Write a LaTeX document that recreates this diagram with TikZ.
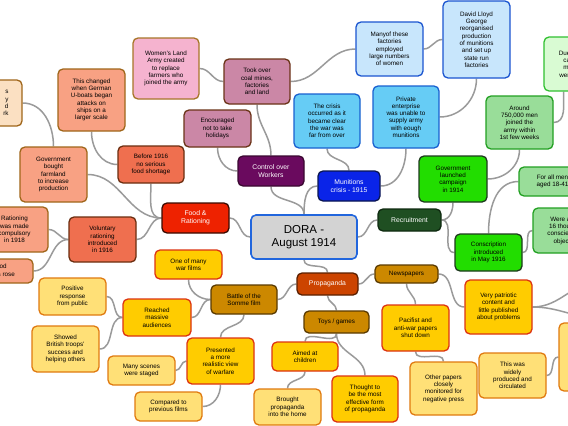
\documentclass[tikz,border=0pt]{standalone}
\usepackage{fontspec}
\setmainfont{Liberation Sans}
\usetikzlibrary{backgrounds}
\definecolor{cLine}{HTML}{9A9A9A}
\definecolor{cSal}{HTML}{F8A183}
\definecolor{bSal}{HTML}{A0661A}
\definecolor{cBei}{HTML}{FBE0C2}
\definecolor{cSalM}{HTML}{EF6F4F}
\definecolor{bBrn}{HTML}{6B2E10}
\definecolor{cPink}{HTML}{F5B3CF}
\definecolor{bPink}{HTML}{A87528}
\definecolor{cMauve}{HTML}{CB87A6}
\definecolor{bMauve}{HTML}{6B3318}
\definecolor{cBlueL}{HTML}{C8E6FC}
\definecolor{bBlueL}{HTML}{1B55D0}
\definecolor{cBlueM}{HTML}{66CCF5}
\definecolor{bBlueM}{HTML}{1860D0}
\definecolor{cGreenVL}{HTML}{D9FBD3}
\definecolor{bGreenVL}{HTML}{30C030}
\definecolor{cGreenL}{HTML}{99DD99}
\definecolor{bGreenL}{HTML}{22A022}
\definecolor{cGreenB}{HTML}{22DD00}
\definecolor{bGreenB}{HTML}{1E3A1E}
\definecolor{cGreenD}{HTML}{1F4F22}
\definecolor{bGreenD}{HTML}{0F2A10}
\definecolor{cPurp}{HTML}{6A0A5E}
\definecolor{bPurp}{HTML}{3A0830}
\definecolor{cMun}{HTML}{0A24E8}
\definecolor{bMun}{HTML}{0A1650}
\definecolor{cFood}{HTML}{EE2200}
\definecolor{bFood}{HTML}{3A0A00}
\definecolor{cDora}{HTML}{D3D3D3}
\definecolor{bDora}{HTML}{2266DD}
\definecolor{cProp}{HTML}{CC4400}
\definecolor{bProp}{HTML}{5A2000}
\definecolor{cGold}{HTML}{CC8800}
\definecolor{bGold}{HTML}{5A3A00}
\definecolor{cYel}{HTML}{FFCC00}
\definecolor{bYel}{HTML}{DD3311}
\definecolor{cYelL}{HTML}{FFE077}
\definecolor{bYelL}{HTML}{E07A10}
\newcommand\bx[7]{\node[box,#2,minimum width={(#5)-(#3)},minimum height={(#6)-(#4)}] (#1) at ({((#3)+(#5))/2},{-((#4)+(#6))/2}) {#7};}
\begin{document}
\begin{tikzpicture}[x=1pt,y=1pt,
  box/.style={rounded corners=5pt,line width=1.3pt,inner sep=0.5pt,align=center,font=\fontsize{6.3}{7.3}\selectfont,text=black},
  wbox/.style={box,text=white,font=\fontsize{6.8}{7.8}\selectfont},
  cn/.style={draw=cLine,line width=1.5pt},
  sal/.style={fill=cSal,draw=bSal},
  salm/.style={fill=cSalM,draw=bBrn},
  pnk/.style={fill=cPink,draw=bPink},
  mauve/.style={fill=cMauve,draw=bMauve},
  bluel/.style={fill=cBlueL,draw=bBlueL},
  bluem/.style={fill=cBlueM,draw=bBlueM},
  grvl/.style={fill=cGreenVL,draw=bGreenVL},
  grl/.style={fill=cGreenL,draw=bGreenL},
  grb/.style={fill=cGreenB,draw=bGreenB},
  gold/.style={fill=cGold,draw=bGold},
  yel/.style={fill=cYel,draw=bYel},
  yell/.style={fill=cYelL,draw=bYelL}]
\useasboundingbox (0,-426) rectangle (568,0);
\clip (0,-426) rectangle (568,0);
% centre
\bx{dora}{fill=cDora,draw=bDora,line width=1.6pt,font=\fontsize{11.5}{13}\selectfont}{251}{215}{357}{259}{DORA -\\August 1914}
\bx{ctrl}{wbox,fill=cPurp,draw=bPurp}{238}{156}{304}{186}{Control over\\Workers}
\bx{mun}{wbox,fill=cMun,draw=bMun}{318}{171}{380}{201}{Munitions\\crisis - 1915}
\bx{food}{wbox,fill=cFood,draw=bFood}{162}{203}{229}{233}{Food \&\\Rationing}
\bx{recr}{wbox,fill=cGreenD,draw=bGreenD}{378}{209}{441}{231}{Recruitment}
\bx{prop}{wbox,fill=cProp,draw=bProp}{297}{273}{358}{295}{Propaganda}
% control over workers
\bx{took}{mauve}{224}{59}{290}{104}{Took over\\coal mines,\\factories\\and land}
\bx{enc}{mauve}{184}{110}{251}{147}{Encouraged\\not to take\\holidays}
\bx{wla}{pnk}{133}{38}{199}{99}{Women's Land\\Army created\\to replace\\farmers who\\joined the army}
\bx{many}{bluel}{356}{22}{423}{76}{Manyof these\\factories\\employed\\large numbers\\of women}
% munitions
\bx{crisis}{bluem}{294}{94}{360}{148}{The crisis\\occurred as it\\became clear\\the war was\\far from over}
\bx{priv}{bluem}{373}{86}{439}{148}{Private\\enterprise\\was unable to\\supply army\\with eough\\munitions}
\bx{dlg}{bluel}{443}{1}{510}{78}{David Lloyd\\George\\reorganised\\production\\of munitions\\and set up\\state run\\factories}
% recruitment
\bx{gov}{grb}{419}{156}{487}{202}{Government\\launched\\campaign\\in 1914}
\bx{around}{grl}{486}{96}{553}{149}{Around\\750,000 men\\joined the\\army within\\1st few weeks}
\bx{due}{grvl}{544}{37}{611}{91}{Due to heavy\\casualties\\more men\\were needed}
\bx{consc}{grb}{455}{234}{522}{271}{Conscription\\introduced\\in May 1916}
\bx{forall}{grl}{519}{167}{586}{196}{For all men\\aged 18-41}
\bx{were}{grl}{533}{208}{600}{253}{Were about\\16 thousand\\conscientious\\objectors}
% food
\bx{before}{salm}{118}{146}{184}{183}{Before 1916\\no serious\\food shortage}
\bx{changed}{sal}{58}{69}{125}{131}{This changed\\when German\\U-boats began\\attacks on\\ships on a\\larger scale}
\bx{govb}{sal}{20}{147}{87}{202}{Government\\bought\\farmland\\to increase\\production}
\node[box,fill=cBei,draw=bSal,text width=40pt,align=right,inner xsep=13.5pt,inner ysep=0pt,minimum height=46pt] (bg) at (-11.5,-103) {s\\y\\d\\rk};
\bx{vol}{salm}{69}{217}{136}{262}{Voluntary\\rationing\\introduced\\in 1916}
\bx{comp}{sal}{-19}{207}{48}{252}{Rationing\\was made\\compulsory\\in 1918}
\bx{prices}{sal}{-34}{259}{33}{283}{Food\\prices rose}
% propaganda
\bx{news}{gold}{375}{265}{438}{283}{Newspapers}
\bx{vpat}{yel}{465}{280}{532}{334}{Very patriotic\\content and\\little published\\about problems}
\bx{pac}{yel}{382}{305}{449}{351}{Pacifist and\\anti-war papers\\shut down}
\bx{other}{yell}{410}{362}{477}{415}{Other papers\\closely\\monitored for\\negative press}
\bx{widely}{yell}{479}{353}{546}{398}{This was\\widely\\produced and\\circulated}
\bx{rbox}{yell}{559}{323}{626}{391}{}
\bx{toys}{gold}{304}{311}{369}{333}{Toys / games}
\bx{somme}{gold}{211}{285}{277}{314}{Battle of the\\Somme film}
\bx{onemany}{yel}{155}{250}{222}{279}{One of many\\war films}
\bx{reached}{yel}{123}{299}{191}{336}{Reached\\massive\\audiences}
\bx{pos}{yell}{39}{278}{106}{315}{Positive\\response\\from public}
\bx{showed}{yell}{32}{326}{99}{372}{Showed\\British troops'\\success and\\helping others}
\bx{staged}{yell}{108}{356}{175}{385}{Many scenes\\were staged}
\bx{compd}{yell}{135}{392}{202}{421}{Compared to\\previous films}
\bx{pres}{yel}{187}{338}{254}{384}{Presented\\a more\\realistic view\\of warfare}
\bx{aimed}{yel}{272}{342}{338}{371}{Aimed at\\children}
\bx{brought}{yell}{254}{389}{321}{425}{Brought\\propaganda\\into the home}
\bx{thought}{yel}{332}{376}{398}{422}{Thought to\\be the most\\effective form\\of propaganda}
\coordinate (off1) at (600,-282);
\coordinate (off2) at (600,-318);
\begin{scope}[on background layer]
\fill[white] (0,-426) rectangle (568,0);
\draw[cn] (dora.north) to[out=90,in=-90] (ctrl.south);
\draw[cn] (dora.north) to[out=90,in=180] (mun.west);
\draw[cn] (dora.west) to[out=180,in=0] (food.east);
\draw[cn] (dora.east) to[out=0,in=180] (recr.west);
\draw[cn] (dora.south) to[out=-90,in=90] (prop.north);
\draw[cn] (ctrl.north) to[out=90,in=-90] (took.south);
\draw[cn] (ctrl.west) to[out=180,in=-90] (enc.south);
\draw[cn] (took.west) to[out=180,in=0] (wla.east);
\draw[cn] (took.east) to[out=0,in=180] (many.west);
\draw[cn] (mun.north) to[out=90,in=-90] (crisis.south);
\draw[cn] (mun.east) to[out=0,in=-90] (priv.south);
\draw[cn] (priv.east) to[out=0,in=-90] (dlg.south);
\draw[cn] (many.east) to[out=0,in=180] (dlg.west);
\draw[cn] (recr.east) to[out=0,in=-90] (gov.south);
\draw[cn] (recr.east) to[out=0,in=180] (consc.west);
\draw[cn] (gov.east) to[out=0,in=-90] (around.south);
\draw[cn] (around.east) to[out=0,in=-90] ([xshift=-14pt]due.south);
\draw[cn] (consc.north) to[out=90,in=180] (forall.west);
\draw[cn] (consc.east) to[out=0,in=180] (were.west);
\draw[cn] (food.west) to[out=180,in=-90] (before.south);
\draw[cn] (food.west) to[out=180,in=0] (govb.east);
\draw[cn] (food.west) to[out=180,in=0] (vol.east);
\draw[cn] (before.west) to[out=180,in=-90] (changed.south);
\draw[cn] (govb.north) to[out=90,in=0] (bg.east);
\draw[cn] (vol.west) to[out=180,in=0] (comp.east);
\draw[cn] (vol.west) to[out=180,in=0] (prices.east);
\draw[cn] (prop.west) to[out=180,in=0] (somme.east);
\draw[cn] (prop.south) to[out=-90,in=90] (toys.north);
\draw[cn] (prop.east) to[out=0,in=180] (news.west);
\draw[cn] (news.east) to[out=0,in=180] (vpat.west);
\draw[cn] (news.south) to[out=-90,in=90] (pac.north);
\draw[cn] (pac.south) to[out=-90,in=90] (other.north);
\draw[cn] (vpat.east) to[out=0,in=180] (off1);
\draw[cn] (vpat.east) to[out=0,in=180] (off2);
\draw[cn] (widely.east) to[out=0,in=180] (rbox.west);
\draw[cn] (somme.west) to[out=180,in=-90] (onemany.south);
\draw[cn] (somme.west) to[out=180,in=0] (reached.east);
\draw[cn] (somme.south) to[out=-90,in=90] (pres.north);
\draw[cn] (reached.west) to[out=180,in=0] (pos.east);
\draw[cn] (reached.west) to[out=180,in=0] (showed.east);
\draw[cn] (pres.west) to[out=180,in=0] (staged.east);
\draw[cn] (pres.south) to[out=-90,in=0] (compd.east);
\draw[cn] (toys.south) to[out=-90,in=90] (aimed.north);
\draw[cn] (toys.south) to[out=-90,in=90] (thought.north);
\draw[cn] (aimed.south) to[out=-90,in=90] (brought.north);
\end{scope}
\end{tikzpicture}
\end{document}
